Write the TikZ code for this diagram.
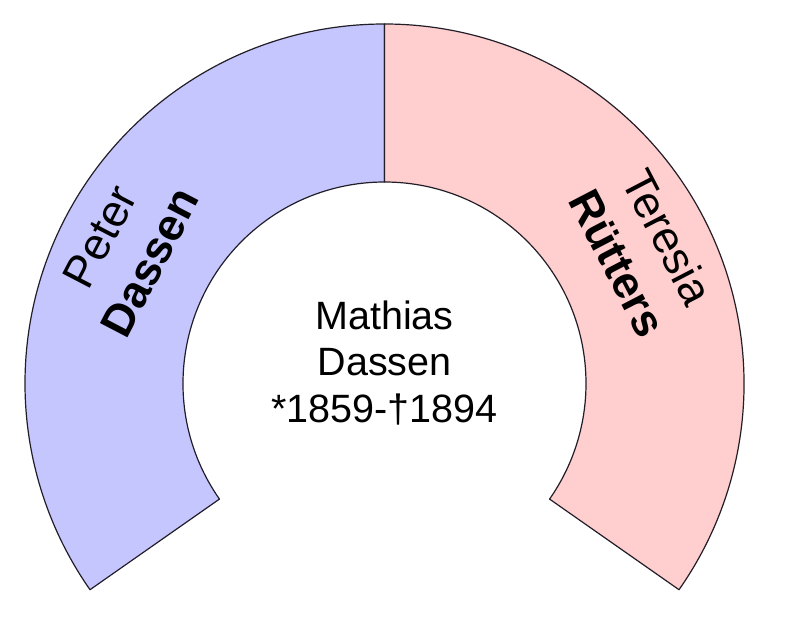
\documentclass[tikz,border=0pt]{standalone}
\usepackage{fontspec}
\setmainfont{Liberation Sans}
\definecolor{fanblue}{RGB}{198,198,255}
\definecolor{fanpink}{RGB}{255,206,206}
\definecolor{fanline}{RGB}{34,30,40}
\tikzset{
  sector/.style={draw=fanline, line width=1.2pt, line join=round},
  name text/.style={font=\fontsize{45}{56}\selectfont, align=center, inner sep=0pt},
  main text/.style={font=\fontsize{39.5}{46.5}\selectfont, align=center, inner sep=0pt}
}
\begin{document}
\begin{tikzpicture}[x=1pt,y=1pt]
\useasboundingbox (0,0) rectangle (791,633);
\fill[white] (0,0) rectangle (791,633);
\coordinate (C) at (384.5,249.5);
% father sector
\path[sector, fill=fanblue] ([shift={(C)}]90:359.5) arc[start angle=90, end angle=215, radius=359.5]
  -- ([shift={(C)}]215:201.5) arc[start angle=215, end angle=90, radius=201.5] -- cycle;
% mother sector
\path[sector, fill=fanpink] ([shift={(C)}]-35:359.5) arc[start angle=-35, end angle=90, radius=359.5]
  -- ([shift={(C)}]90:201.5) arc[start angle=90, end angle=-35, radius=201.5] -- cycle;
\node[name text, rotate=62.5] (father) at ([shift={(C)}]152.7:292) {Peter\\\textbf{Dassen}};
\node[name text, rotate=-62.5] (mother) at ([shift={(C)}]27.3:291) {Teresia\\\textbf{Rütters}};
\node[main text] (child) at (384.5,270) {Mathias\\Dassen\\*1859-†1894};
\end{tikzpicture}
\end{document}
